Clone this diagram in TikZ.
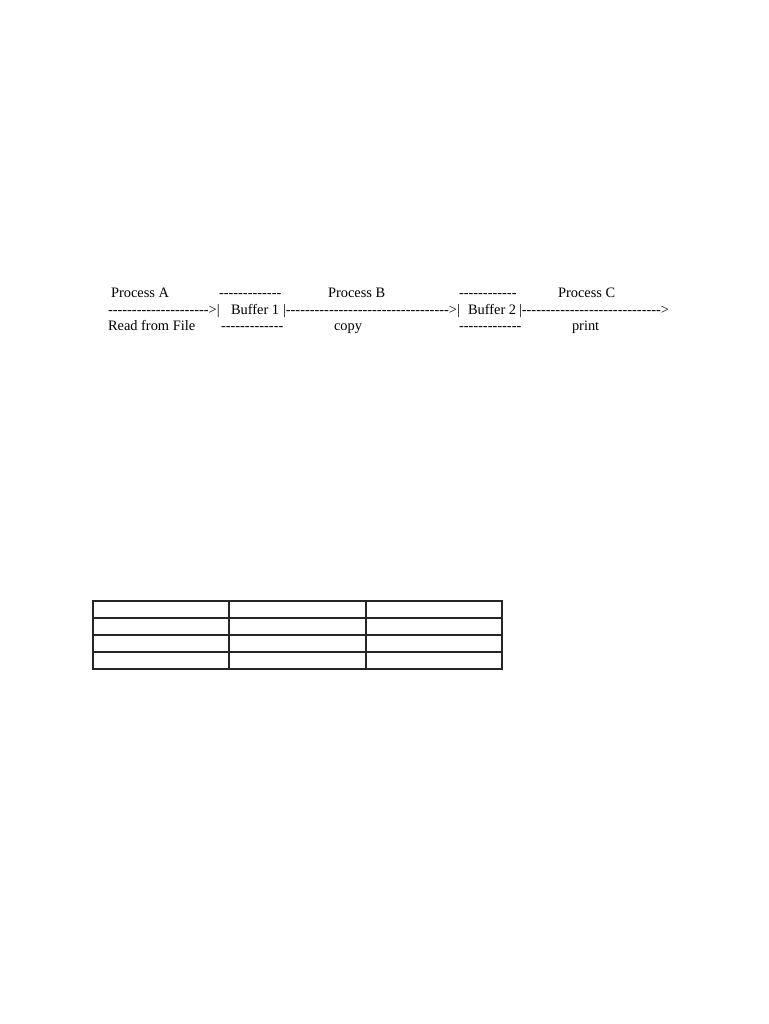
\documentclass[tikz,border=0pt]{standalone}
\usepackage{fontspec}
\setmainfont{Liberation Serif}[Ligatures=TeXOff]
\begin{document}
\begin{tikzpicture}[x=1pt,y=-1pt,
  txt/.style={anchor=base west,inner sep=0pt,outer sep=0pt,font=\fontsize{14.4}{16}\selectfont},
  grid/.style={line width=1.3pt,draw=black!85}]
\useasboundingbox[fill=white] (0,0) rectangle (768,1024);
% row 1
\node[txt] (pa) at (111,297.5) {Process A};
\node[txt] (d1) at (219,297.5) {-------------};
\node[txt] (pb) at (328,297.5) {Process B};
\node[txt] (d2) at (459,297.5) {------------};
\node[txt] (pc) at (558,297.5) {Process C};
% row 2
\node[txt] (a1) at (108,314) {---------------------{}>|};
\node[txt] (b1) at (231,314) {Buffer 1};
\node[txt] (a2) at (283,314) {|----------------------------------{}>|};
\node[txt] (b2) at (468,314) {Buffer 2};
\node[txt] (a3) at (519,314) {|-----------------------------{}>};
% row 3
\node[txt] (rf) at (108,330.5) {Read from File};
\node[txt] (d3) at (221,330.5) {-------------};
\node[txt] (cp) at (334,330.5) {copy};
\node[txt] (d4) at (459,330.5) {-------------};
\node[txt] (pr) at (572,330.5) {print};
% table
\draw[grid] (93,601) rectangle (502,669);
\foreach \yy in {618,635,652} \draw[grid] (93,\yy) -- (502,\yy);
\foreach \xx in {229,366} \draw[grid] (\xx,601) -- (\xx,669);
\end{tikzpicture}
\end{document}
